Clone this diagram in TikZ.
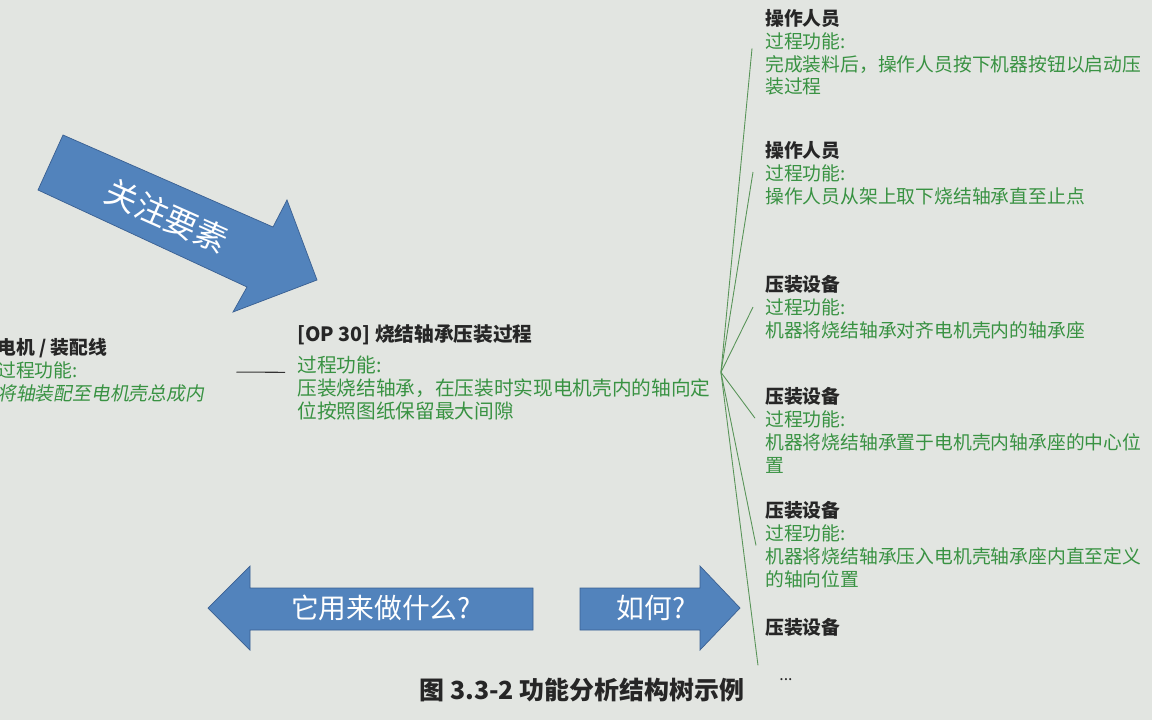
\documentclass[tikz,border=0pt]{standalone}
\usepackage{fontspec}
\setmainfont{Noto Sans CJK SC}
\newfontfamily\cjkslant[FakeSlant=0.18]{Noto Sans CJK SC}
\usepackage{tikz}
\usetikzlibrary{positioning}
\usetikzlibrary{calc}

\definecolor{paper}{RGB}{226,229,225}
\definecolor{leaf}{RGB}{56,146,66}
\definecolor{ink}{RGB}{38,38,38}
\definecolor{arrowblue}{RGB}{82,131,188}
\definecolor{arrowedge}{RGB}{58,96,146}
\definecolor{branch}{RGB}{88,148,88}

\tikzset{
  funcblock/.style={anchor=north west, inner sep=0pt, align=left, text=leaf,
    font=\fontsize{10.7}{13}\selectfont},
  bigarrow/.style={fill=arrowblue, draw=arrowedge, line width=0.4pt},
  arrowtext/.style={text=white, inner sep=0pt}
}

\begin{document}
\begin{tikzpicture}[x=0.02cm, y=-0.02cm]
\fill[paper] (0,0) rectangle (1152,720);
\useasboundingbox (0,0) rectangle (1152,720);

% Arrows
\draw[bigarrow] (63,135) -- (273,227) -- (287,200) -- (317,280) -- (233,312) -- (247,287) -- (38,190) -- cycle;% Focus
\draw[bigarrow] (208,608) -- (250,566) -- (250,588) -- (533,588) -- (533,630) -- (250,630) -- (250,650) -- cycle;% What for
\draw[bigarrow] (740,608) -- (700,566) -- (700,588) -- (580,588) -- (580,630) -- (700,630) -- (700,650) -- cycle;% How

\node[arrowtext, rotate=-24, font=\fontsize{18.5}{20}\selectfont] (focus) at (167,216) {关注要素};
\node[arrowtext, font=\fontsize{15.8}{17}\selectfont] (whatfor) at (381,608) {它用来做什么?};
\node[arrowtext, font=\fontsize{15.8}{17}\selectfont] (how) at (651,608) {如何?};

% Blocks
\node[funcblock] (motor) at (-3,338) {{\color{ink}\bfseries 电机 / 装配线}\\过程功能:\\{\cjkslant 将轴装配至电机壳总成内}};
\node[funcblock, font=\fontsize{11.2}{13}\selectfont] (op) at (297,324) {{\color{ink}\bfseries [OP 30] 烧结轴承压装过程}\\[5pt]过程功能:\\压装烧结轴承，在压装时实现电机壳内的轴向定\\位按照图纸保留最大间隙};

\node[funcblock] (opr1) at (765,9) {{\color{ink}\bfseries 操作人员}\\过程功能:\\完成装料后，操作人员按下机器按钮以启动压\\装过程};
\node[funcblock] (opr2) at (765,141) {{\color{ink}\bfseries 操作人员}\\过程功能:\\操作人员从架上取下烧结轴承直至止点};
\node[funcblock] (press1) at (765,275) {{\color{ink}\bfseries 压装设备}\\过程功能:\\机器将烧结轴承对齐电机壳内的轴承座};
\node[funcblock] (press2) at (765,387) {{\color{ink}\bfseries 压装设备}\\过程功能:\\机器将烧结轴承置于电机壳内轴承座的中心位\\置};
\node[funcblock] (press3) at (765,501) {{\color{ink}\bfseries 压装设备}\\过程功能:\\机器将烧结轴承压入电机壳轴承座内直至定义\\的轴向位置};
\node[funcblock, text=ink] (press4) at (765,618) {\bfseries 压装设备};
\node[funcblock, text=ink, font=\fontsize{9}{10}\selectfont] (dots) at (779,678) {...};

% Links
\coordinate (hub) at ($(op.east)+(10,0)$);
\draw[gray!40!black, line width=0.6pt] ($(motor.east)+(32,2)$) -- ($(op.west)+(-12,0)$);
\draw[branch, line width=0.5pt] (hub) -- ($(opr1.west)+(-13,-4)$);
\draw[branch, line width=0.5pt] (hub) -- ($(opr2.west)+(-12,-1)$);
\draw[branch, line width=0.5pt] (hub) -- ($(press1.west)+(-12,0)$);
\draw[branch, line width=0.5pt] (hub) -- ($(press2.west)+(-10,-12)$);
\draw[branch, line width=0.5pt] (hub) -- ($(press3.west)+(-9,1)$);
\draw[branch, line width=0.5pt] (hub) -- ($(press4.west)+(-7,38)$);

% Caption
\node[text=ink, inner sep=0pt, font=\fontsize{14.2}{16}\selectfont\bfseries] (caption) at (582,690) {图 3.3-2 功能分析结构树示例};
\end{tikzpicture}
\end{document}
